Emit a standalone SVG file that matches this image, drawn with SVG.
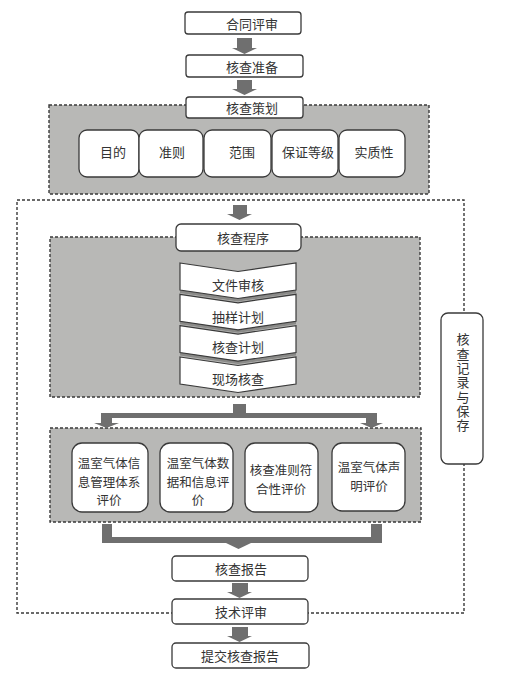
<svg xmlns="http://www.w3.org/2000/svg" width="508" height="679" viewBox="0 0 508 679">
<defs>
<style>
.box{fill:#fff;stroke:#3a3a3a;stroke-width:1.3}
.region{fill:#b8b8b6;stroke:#3a3a3a;stroke-width:1.4;stroke-dasharray:3 2}
.outer{fill:none;stroke:#3a3a3a;stroke-width:1.4;stroke-dasharray:3 2}
.arr{fill:#6f6f6f}
.chev{fill:#fff;stroke:#3a3a3a;stroke-width:1.2}
.shadow{fill:#8a8a88}
text{font-family:"Noto Sans CJK SC","Noto Sans",sans-serif;font-size:13px;fill:#333;text-anchor:middle;dominant-baseline:central}
.ml{font-size:12.5px}
.vert{writing-mode:vertical-rl;letter-spacing:1.3px}
</style>
</defs>
<rect width="508" height="679" fill="#fff"/>
<!-- background regions -->
<rect id="region-plan" class="region" x="49" y="105" width="380" height="89"/>
<rect id="region-outer" class="outer" x="17" y="200" width="447" height="413"/>
<rect id="region-proc" class="region" x="50" y="237" width="370" height="160"/>
<rect id="region-eval" class="region" x="50" y="428" width="371" height="94"/>

<g id="connectors">
<path class="arr" d="M237 38H252V48H257L244.5 54L232 48H237Z"/>
<path class="arr" d="M237 80H252V89H257L244.5 95L232 89H237Z"/>
<path class="arr" d="M233 205H247V214H252L239.5 220L227 214H233Z"/>
<path class="arr" d="M233 404H246V413H377V423H383L371.5 428L360 423H366V418H112V423H119L106.5 428L94 423H101V413H233Z"/>
<path class="arr" d="M102 524H112V537H371V524H382V543H251L238.5 549L226 543H102Z"/>
<path class="arr" d="M232 583H248V592H252L239.5 598L227 592H232Z"/>
<path class="arr" d="M232 627H248V636H252L239.5 642L227 636H232Z"/>
</g>

<g id="n-hetong"><rect class="box" x="185" y="12" width="116" height="22" rx="3"/><text x="252" y="23">合同评审</text></g>
<g id="n-zhunbei"><rect class="box" x="186" y="55" width="117" height="22" rx="3"/><text x="252" y="66">核查准备</text></g>
<g id="n-cehua"><rect class="box" x="186" y="97" width="117" height="21" rx="3"/><text x="252" y="107.5">核查策划</text></g>

<g id="n-mudi"><rect class="box" x="79" y="130" width="60" height="47" rx="8"/><text x="113" y="151">目的</text></g>
<g id="n-zhunze"><rect class="box" x="139" y="130" width="64" height="47" rx="8"/><text x="172" y="151">准则</text></g>
<g id="n-fanwei"><rect class="box" x="204" y="130" width="67" height="47" rx="8"/><text x="242" y="151">范围</text></g>
<g id="n-baozheng"><rect class="box" x="272" y="130" width="66" height="47" rx="8"/><text x="308" y="151">保证等级</text></g>
<g id="n-shizhi"><rect class="box" x="339" y="130" width="66" height="47" rx="8"/><text x="374" y="151">实质性</text></g>

<g id="n-chengxu"><rect class="box" x="176" y="224" width="125" height="27" rx="5"/><text x="243" y="237.5">核查程序</text></g>

<g id="n-wenjian"><path class="shadow" d="M180 266L238 274.5L296 266V293L238 301.5L180 293Z"/><path class="chev" d="M180 263L238 271.5L296 263V290L238 298.5L180 290Z"/><text x="238" y="284">文件审核</text></g>
<g id="n-chouyang"><path class="shadow" d="M180 297.3L238 305.8L296 297.3V324.3L238 332.8L180 324.3Z"/><path class="chev" d="M180 294.3L238 302.8L296 294.3V321.3L238 329.8L180 321.3Z"/><text x="238" y="316">抽样计划</text></g>
<g id="n-jihua"><path class="shadow" d="M180 328.6L238 337.1L296 328.6V355.6L238 364.1L180 355.6Z"/><path class="chev" d="M180 325.6L238 334.1L296 325.6V352.6L238 361.1L180 352.6Z"/><text x="238" y="346.5">核查计划</text></g>
<g id="n-xianchang"><path class="chev" d="M180 357L238 365.5L296 357V384L238 392.5L180 384Z"/><text x="238" y="378">现场核查</text></g>

<g id="n-e1"><rect class="box" x="72" y="443" width="76" height="69" rx="10"/><text class="ml" x="109" y="462.8">温室气体信<tspan x="109" dy="18.2">息管理体系</tspan><tspan x="109" dy="18.2">评价</tspan></text></g>
<g id="n-e2"><rect class="box" x="160" y="443" width="73" height="69" rx="10"/><text class="ml" x="198" y="462.8">温室气体数<tspan x="198" dy="18.2">据和信息评</tspan><tspan x="198" dy="18.2">价</tspan></text></g>
<g id="n-e3"><rect class="box" x="245" y="443" width="73" height="69" rx="10"/><text class="ml" x="281" y="469.4">核查准则符<tspan x="281" dy="18.2">合性评价</tspan></text></g>
<g id="n-e4"><rect class="box" x="332" y="443" width="73" height="68" rx="10"/><text class="ml" x="369" y="466.4">温室气体声<tspan x="369" dy="18.2">明评价</tspan></text></g>

<g id="n-jilu"><rect class="box" x="441" y="313" width="42" height="151" rx="7"/>
<text class="vert" x="463" y="383">核查记录与保存</text></g>

<g id="n-baogao"><rect class="box" x="172" y="556" width="136" height="25" rx="4"/><text x="241" y="568">核查报告</text></g>
<g id="n-jishu"><rect class="box" x="172" y="599" width="136" height="25" rx="4"/><text x="241" y="611.5">技术评审</text></g>
<g id="n-tijiao"><rect class="box" x="172" y="643" width="137" height="25" rx="4"/><text x="240" y="655.5">提交核查报告</text></g>
</svg>
